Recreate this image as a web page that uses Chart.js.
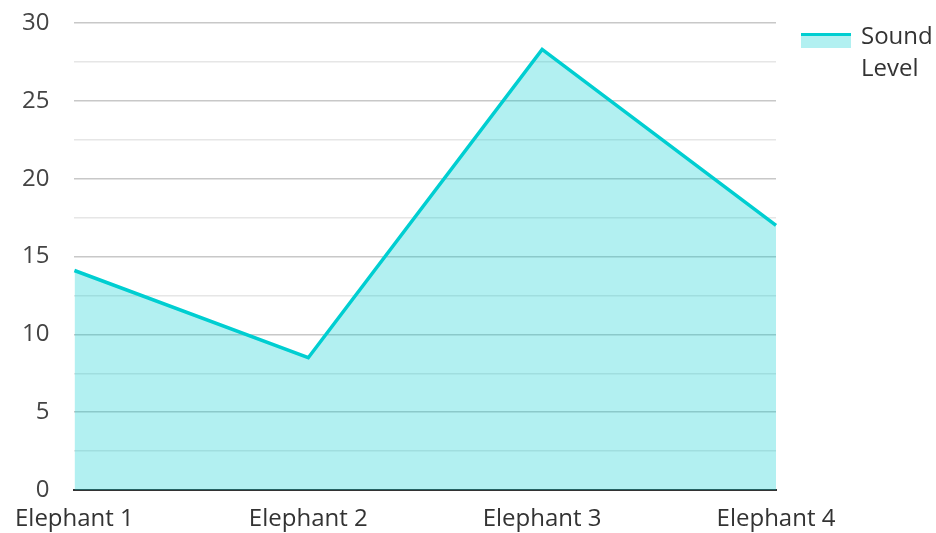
<!DOCTYPE html>
<html>
<head>
<meta charset="utf-8">
<script src="https://cdn.jsdelivr.net/npm/chart.js@4"></script>
<style>
  html, body { margin: 0; padding: 0; background: #fff; }
  #wrap { position: relative; width: 936px; height: 533px; }
  #legend {
    position: absolute; left: 801px; top: 19px;
    font-family: "Open Sans", sans-serif; font-size: 24px; line-height: 32px; color: #333;
  }
  #legend .swatch {
    position: absolute; left: 0; top: 14px; width: 50px; height: 15px;
    background: rgba(0, 206, 209, 0.3); border-top: 3px solid #00ced1; box-sizing: border-box;
  }
  #legend .txt { margin-left: 60px; }
</style>
</head>
<body>
<div id="wrap">
  <canvas id="chart" width="936" height="533"></canvas>
  <div id="legend"><span class="swatch"></span><div class="txt">Sound<br>Level</div></div>
</div>
<script>
// data
const categories = ["Elephant 1", "Elephant 2", "Elephant 3", "Elephant 4"];
const soundLevel = [14.1, 8.5, 28.3, 17.0];
const seriesName = "Sound Level";

const lineColor = "#00ced1";
const fillColor = "rgba(0, 206, 209, 0.3)";

const ctx = document.getElementById("chart").getContext("2d");

new Chart(ctx, {
  type: "line",
  data: {
    labels: categories,
    datasets: [{
      label: seriesName,
      data: soundLevel,
      borderColor: lineColor,
      backgroundColor: fillColor,
      borderWidth: 3.5,
      fill: "origin",
      tension: 0,
      pointRadius: 0
    }]
  },
  options: {
    responsive: false,
    animation: false,
    layout: { padding: { top: 23, right: 160, left: 0, bottom: 0 } },
    plugins: {
      legend: { display: false },
      tooltip: { enabled: false }
    },
    scales: {
      x: {
        offset: false,
        grid: { display: false, drawTicks: false },
        border: { display: true, color: "#333", width: 2 },
        ticks: {
          color: "#333", padding: 15, maxRotation: 0,
          font: { family: "'Open Sans', sans-serif", size: 24 }
        },
        afterFit: (scale) => { scale.height = 43; }
      },
      y: {
        min: 0,
        max: 30,
        grid: {
          drawTicks: false,
          // major lines every 5, lighter minor lines in between
          color: (c) => (c.tick && c.tick.value % 5 === 0) ? "#c8c8c8" : "#e6e6e6",
          lineWidth: 1.5
        },
        border: { display: false },
        ticks: {
          stepSize: 2.5,
          color: "#444",
          padding: 25,
          font: { family: "'Open Sans', sans-serif", size: 24 },
          callback: (v) => (v % 5 === 0 ? v : "")
        },
        afterFit: (scale) => { scale.width = 73; scale.paddingTop = 0; scale.paddingBottom = 0; }
      }
    }
  }
});
</script>
</body>
</html>
